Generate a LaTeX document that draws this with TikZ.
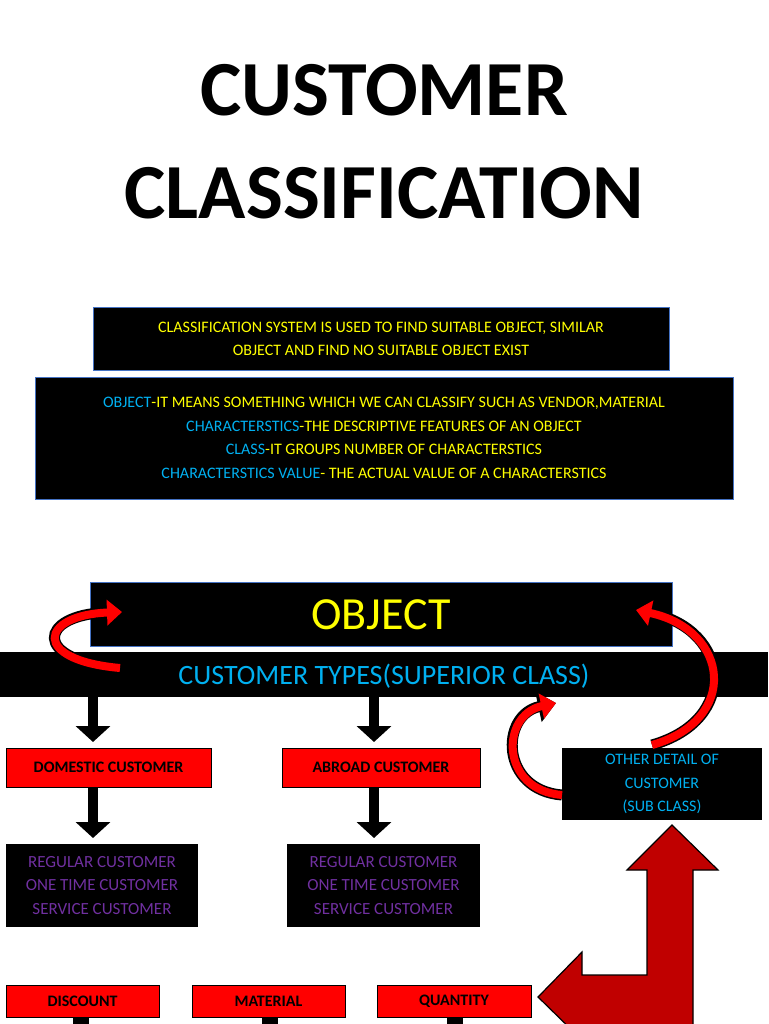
\documentclass[tikz,border=0pt]{standalone}
\usepackage{fontspec}
\setmainfont{Carlito}
\usetikzlibrary{arrows.meta}
\definecolor{yel}{RGB}{255,255,0}
\definecolor{cy}{RGB}{0,176,240}
\definecolor{pur}{RGB}{112,48,160}
\definecolor{rd}{RGB}{255,0,0}
\definecolor{drd}{RGB}{192,0,0}
\definecolor{bb}{RGB}{68,114,196}
\tikzset{
 bbox/.style={fill=black,draw=bb,line width=1pt},
 rbox/.style={fill=rd,draw=black,line width=1pt},
 kbox/.style={fill=black,draw=black},
 darr/.style={line width=10pt,-{Triangle[length=16pt,width=34pt]}},
 carrout/.style={line width=11pt,black,-{Triangle[length=18pt,width=30pt]}},
 carrin/.style={line width=8pt,rd,-{Triangle[length=15pt,width=25pt]}},
}
\begin{document}
\begin{tikzpicture}[x=1pt,y=-1pt,font=\bfseries]
\useasboundingbox (0,0) rectangle (768,1024);
\fill[white] (0,0) rectangle (768,1024);
\node (t1) at (384,90) {\fontsize{78}{80}\selectfont CUSTOMER};
\node (t2) at (384,193) {\fontsize{78}{80}\selectfont CLASSIFICATION};
% info boxes
\draw[bbox] (93,307) rectangle (669,370);
\node[yel,align=center,font=\fontsize{16}{23}\selectfont] (i1) at (381,338.5) {CLASSIFICATION SYSTEM IS USED TO FIND SUITABLE OBJECT, SIMILAR\\OBJECT AND FIND NO SUITABLE OBJECT EXIST};
\draw[bbox] (35,377) rectangle (733,499);
\node[yel,align=center,font=\fontsize{16}{23.5}\selectfont] (i2) at (384,438) {\textcolor{cy}{OBJECT}-IT MEANS SOMETHING WHICH WE CAN CLASSIFY SUCH AS VENDOR,MATERIAL\\\textcolor{cy}{CHARACTERSTICS}-THE DESCRIPTIVE FEATURES OF AN OBJECT\\\textcolor{cy}{CLASS}-IT GROUPS NUMBER OF CHARACTERSTICS\\\textcolor{cy}{CHARACTERSTICS VALUE}- THE ACTUAL VALUE OF A CHARACTERSTICS};
% object
\draw[bbox] (90,582) rectangle (672,646);
\node[yel,font=\fontsize{46}{48}\selectfont] (obj) at (381,615) {OBJECT};
\fill[black] (0,652) rectangle (768,697);
\node[cy,font=\fontsize{28}{30}\selectfont] (ct) at (384,676) {CUSTOMER TYPES(SUPERIOR CLASS)};
% boxes
\draw[rbox] (6,748) rectangle (211,787);
\node (dom) at (108.5,767.5) {\fontsize{16}{18}\selectfont DOMESTIC CUSTOMER};
\draw[rbox] (282,748) rectangle (480,787);
\node (abr) at (381,767.5) {\fontsize{16}{18}\selectfont ABROAD CUSTOMER};
\fill[black] (6,844) rectangle (198,927);
\node[pur,align=center,font=\fontsize{17}{23.5}\selectfont] (r1) at (102,885.5) {REGULAR CUSTOMER\\ONE TIME CUSTOMER\\SERVICE CUSTOMER};
\fill[black] (287,844) rectangle (480,927);
\node[pur,align=center,font=\fontsize{17}{23.5}\selectfont] (r2) at (383.5,885.5) {REGULAR CUSTOMER\\ONE TIME CUSTOMER\\SERVICE CUSTOMER};
\fill[black] (562,748) rectangle (762,820);
\node[cy,align=center,font=\fontsize{16}{23.5}\selectfont] (oth) at (662,784) {OTHER DETAIL OF\\CUSTOMER\\(SUB CLASS)};
% black arrows
\coordinate (a1s) at (93,697); \coordinate (a1e) at (93,742);
\coordinate (a2s) at (374,697); \coordinate (a2e) at (374,742);
\coordinate (a3s) at (93,787); \coordinate (a3e) at (93,838);
\coordinate (a4s) at (374,787); \coordinate (a4e) at (374,838);
\draw[darr] (a1s) -- (a1e);
\draw[darr] (a2s) -- (a2e);
\draw[darr] (a3s) -- (a3e);
\draw[darr] (a4s) -- (a4e);
% bottom boxes
\draw[rbox] (6,985) rectangle (159,1017);
\node (dis) at (82.5,1001) {\fontsize{16}{18}\selectfont DISCOUNT};
\draw[rbox] (192,985) rectangle (345,1017);
\node (mat) at (268.5,1001) {\fontsize{16}{18}\selectfont MATERIAL};
\draw[rbox] (377,985) rectangle (531,1017);
\node (qty) at (454,1001) {\fontsize{16}{18}\selectfont QUANTITY};
\fill[black] (73,1018) rectangle (89,1024);
\fill[black] (262,1018) rectangle (278,1024);
\fill[black] (447,1018) rectangle (463,1024);
% big L arrow
\draw[fill=drd,draw=black,line width=1.2pt] (693,1040) -- (693,870) -- (718,870) -- (672,825) -- (627,870) -- (647,870) -- (647,975) -- (582,975) -- (582,952) -- (538,997) -- (582,1040) -- cycle;
% curved arrows
\coordinate (c1s) at (120,668); \coordinate (c1e) at (122,612);
\draw[carrout] (c1s) .. controls (30,660) and (40,615) .. (c1e);
\draw[carrin] (c1s) .. controls (30,660) and (40,615) .. (c1e);
\coordinate (c2s) at (652,745); \coordinate (c2e) at (636,610);
\draw[carrout] (c2s) .. controls (740,720) and (730,630) .. (c2e);
\draw[carrin] (c2s) .. controls (740,720) and (730,630) .. (c2e);
\coordinate (c3s) at (562,795); \coordinate (c3e) at (556,703);
\draw[carrout] (c3s) .. controls (500,790) and (500,715) .. (c3e);
\draw[carrin] (c3s) .. controls (500,790) and (500,715) .. (c3e);
\end{tikzpicture}
\end{document}
